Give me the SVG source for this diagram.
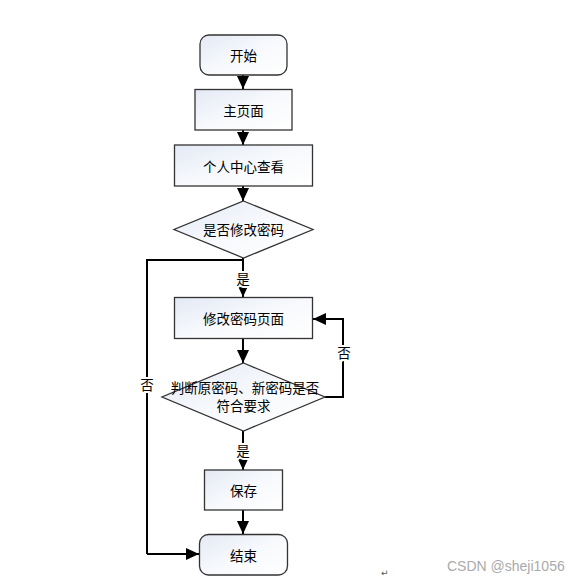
<svg xmlns="http://www.w3.org/2000/svg" width="585" height="584" viewBox="0 0 585 584">
<defs>
<linearGradient id="g" x1="0" y1="0" x2="1" y2="1">
<stop offset="0" stop-color="#e3e9f5"/>
<stop offset="0.5" stop-color="#f7f9fc"/>
<stop offset="1" stop-color="#ffffff"/>
</linearGradient>
<marker id="ah" viewBox="0 0 10 10" refX="10" refY="5" markerWidth="6.5" markerHeight="6" markerUnits="strokeWidth" orient="auto" preserveAspectRatio="none">
<path d="M0,0 L10,5 L0,10 Z" fill="#000"/>
</marker>
<style>
.n{fill:url(#g);stroke:#333;stroke-width:1.3}
.t{font-family:"Noto Sans CJK SC","Liberation Sans",sans-serif;font-size:13.5px;fill:#000;text-anchor:middle;dominant-baseline:central}
.c{fill:none;stroke:#000;stroke-width:2;marker-end:url(#ah)}
.l{fill:none;stroke:#000;stroke-width:2}
.lb{font-family:"Noto Sans CJK SC","Liberation Sans",sans-serif;font-size:13.5px;fill:#000;text-anchor:middle;dominant-baseline:central;stroke:#fff;stroke-width:4;paint-order:stroke}
</style>
</defs>
<rect width="585" height="584" fill="#fff"/>
<g id="connectors">
<path class="c" d="M243,75 V89"/>
<path class="c" d="M243,130 V145"/>
<path class="c" d="M243,186 V201"/>
<path class="c" d="M243,258 V297"/>
<path class="l" d="M243,260 H147 V554"/>
<path class="c" d="M147,554 H199"/>
<path class="c" d="M243,338 V363"/>
<path class="c" d="M325,397 H343 V319 H313"/>
<path class="c" d="M243,430 V470"/>
<path class="c" d="M243,510 V534"/>
<text class="lb" x="243" y="278">是</text>
<text class="lb" x="147" y="384">否</text>
<text class="lb" x="344" y="352">否</text>
<text class="lb" x="243" y="450">是</text>
</g>
<g id="start"><rect class="n" x="200" y="35" width="87" height="40" rx="9"/><text class="t" x="243.5" y="55">开始</text></g>
<g id="main"><rect class="n" x="195" y="89.5" width="97" height="40.5"/><text class="t" x="243.5" y="110">主页面</text></g>
<g id="center"><rect class="n" x="174.5" y="145" width="138" height="41"/><text class="t" x="243.5" y="165.5">个人中心查看</text></g>
<g id="d1"><polygon class="n" points="243.5,201 313,229.5 243.5,258 174,229.5"/><text class="t" x="243.5" y="229">是否修改密码</text></g>
<g id="modify"><rect class="n" x="174.5" y="297.5" width="138" height="41"/><text class="t" x="243.5" y="318">修改密码页面</text></g>
<g id="d2"><polygon class="n" points="243.5,363 325,397 243.5,431 162,397"/><text class="t" x="245" y="386.5">判断原密码、新密码是否</text><text class="t" x="243.5" y="405">符合要求</text></g>
<g id="save"><rect class="n" x="204.5" y="470" width="78" height="40"/><text class="t" x="243.5" y="490">保存</text></g>
<g id="end"><rect class="n" x="199.5" y="534.5" width="88" height="40.5" rx="9"/><text class="t" x="243.5" y="555">结束</text></g>
<text x="381" y="576" font-family="DejaVu Sans,sans-serif" font-size="9" fill="#555">↵</text>
<text x="447" y="571" font-family="Liberation Sans,Arial,sans-serif" font-size="14" fill="#aaa">CSDN @sheji1056</text>
</svg>
